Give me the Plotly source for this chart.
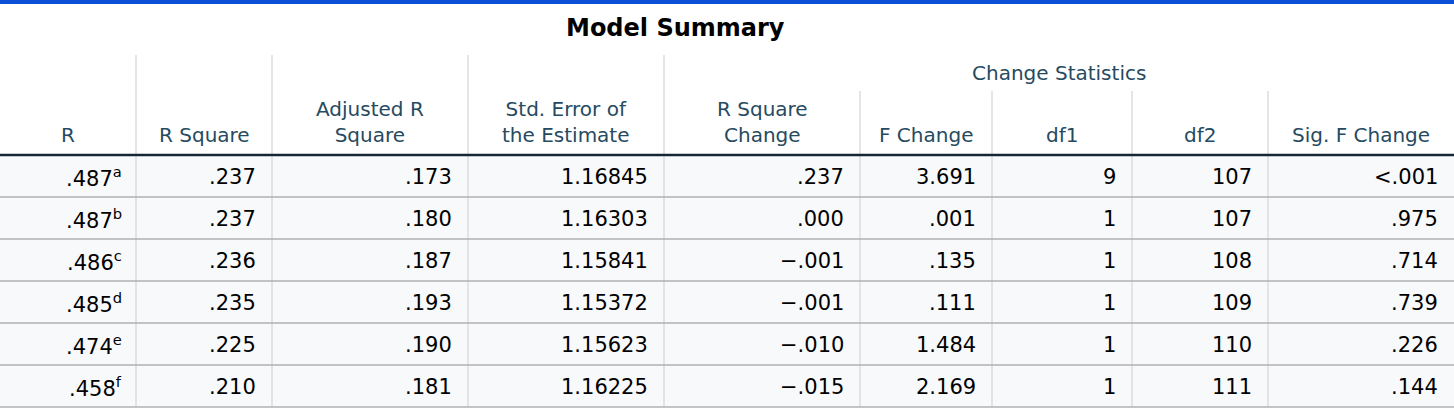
import plotly.graph_objects as go

# data
headers = ["R", "R Square", "Adjusted R<br>Square", "Std. Error of<br>the Estimate",
           "R Square<br>Change", "F Change", "df1", "df2", "Sig. F Change"]
r_vals = [".487", ".487", ".486", ".485", ".474", ".458"]
r_notes = ["a", "b", "c", "d", "e", "f"]
r_square = [".237", ".237", ".236", ".235", ".225", ".210"]
adj_r_square = [".173", ".180", ".187", ".193", ".190", ".181"]
std_error = ["1.16845", "1.16303", "1.15841", "1.15372", "1.15623", "1.16225"]
r_sq_change = [".237", ".000", "-.001", "-.001", "-.010", "-.015"]
f_change = ["3.691", ".001", ".135", ".111", "1.484", "2.169"]
df1 = ["9", "1", "1", "1", "1", "1"]
df2 = ["107", "107", "108", "109", "110", "111"]
sig_f = ["<.001", ".975", ".714", ".739", ".226", ".144"]

W, H = 1454, 412
col_edges = [0, 136, 272, 468, 664, 860, 992, 1132, 1268, 1454]
header_bottom = 155
row_h = 42
n_rows = len(r_vals)
FONT = "DejaVu Sans"
HEAD_COLOR = "#264a60"

fig = go.Figure()
shapes = []
ann = []

# верхняя синяя полоса
shapes.append(dict(type="rect", x0=0, x1=W, y0=0, y1=4, fillcolor="#0a4fd6", line_width=0))

# фон строк
shapes.append(dict(type="rect", x0=0, x1=W, y0=header_bottom, y1=header_bottom + row_h * n_rows,
                   fillcolor="#f8f9fb", line_width=0, layer="below"))

# вертикальные линии
for i, x in enumerate(col_edges[1:-1], start=1):
    top = 55 if i <= 4 else 91
    shapes.append(dict(type="line", x0=x, x1=x, y0=top, y1=header_bottom + row_h * n_rows,
                       line=dict(color="#dcdcdc", width=1.5)))

# горизонтальные линии
for k in range(1, n_rows + 1):
    y = header_bottom + row_h * k
    shapes.append(dict(type="line", x0=0, x1=W, y0=y, y1=y, line=dict(color="#b0b0b0", width=1.5)))
shapes.append(dict(type="line", x0=0, x1=W, y0=header_bottom, y1=header_bottom,
                   line=dict(color="#152935", width=2.5)))

# заголовок
ann.append(dict(x=675, y=28, text="<b>Model Summary</b>", font=dict(size=24, color="black", family=FONT),
                xanchor="center", yanchor="middle"))
ann.append(dict(x=(664 + W) / 2, y=73, text="Change Statistics", font=dict(size=20, color=HEAD_COLOR, family=FONT),
                xanchor="center", yanchor="middle"))

for i, h in enumerate(headers):
    ann.append(dict(x=(col_edges[i] + col_edges[i + 1]) / 2, y=149, text=h,
                    font=dict(size=20, color=HEAD_COLOR, family=FONT),
                    xanchor="center", yanchor="bottom"))

r_text = [f"{v}<sup>{n}</sup>" for v, n in zip(r_vals, r_notes)]
columns = [r_text, r_square, adj_r_square, std_error, r_sq_change, f_change, df1, df2, sig_f]
for c, col in enumerate(columns):
    for r, val in enumerate(col):
        ann.append(dict(x=col_edges[c + 1] - (14 if c else 12), y=header_bottom + row_h * r + row_h / 2 + 1,
                        text=val.replace("-", "−") if c == 4 else val,
                        font=dict(size=21, color="black", family=FONT),
                        xanchor="right", yanchor="middle"))

for a in ann:
    a.update(xref="x", yref="y", showarrow=False)

fig.update_layout(
    width=W, height=H,
    margin=dict(l=0, r=0, t=0, b=0),
    plot_bgcolor="white", paper_bgcolor="white",
    xaxis=dict(range=[0, W], visible=False, fixedrange=True),
    yaxis=dict(range=[H, 0], visible=False, fixedrange=True),
    shapes=shapes, annotations=ann, showlegend=False,
)

# убираем отступ body, чтобы таблица совпадала с окном
fig.write_html("out.html", config={"displayModeBar": False},
               post_script="document.body.style.margin='0';document.body.style.overflow='hidden';")
